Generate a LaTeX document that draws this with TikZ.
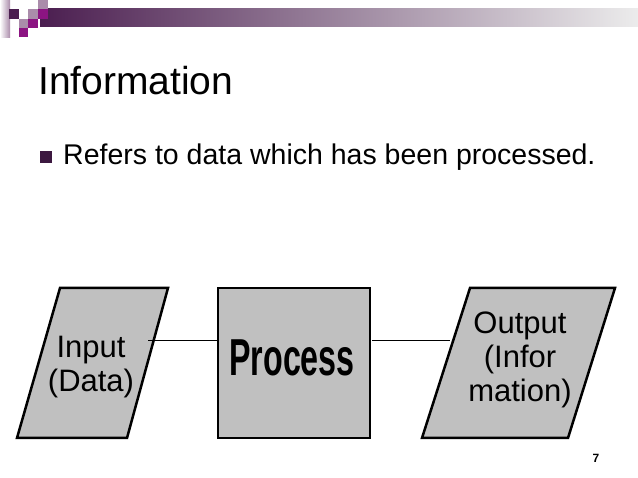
\documentclass[tikz,border=0pt]{standalone}
\usepackage{fontspec}
\setmainfont{Liberation Sans}
\definecolor{pdark}{RGB}{75,30,80}
\definecolor{pmag}{RGB}{140,20,130}
\definecolor{plight}{RGB}{170,140,170}
\definecolor{boxfill}{RGB}{192,192,192}
\begin{document}
\begin{tikzpicture}[x=1pt,y=-1pt,
  shp/.style={draw=black,line width=2.5pt,fill=boxfill},
  lbl/.style={font=\fontsize{31}{34}\selectfont,align=center},
  sq/.style={inner sep=0,minimum size=10pt}]
\useasboundingbox (0,0) rectangle (638,478);
\fill[white] (0,0) rectangle (638,478);
\shade[left color=pdark,right color=white!85!gray] (40,9) rectangle (638,27);
\fill[left color=white, right color=plight] (0,0) rectangle (10,38);
\fill[pdark] (9,9) rectangle (19,19);
\fill[plight] (28,9) rectangle (38,19);
\fill[plight] (38,0) rectangle (48,9);
\fill[pmag] (38,9) rectangle (48,19);
\fill[plight] (19,19) rectangle (28,28);
\fill[pmag] (28,19) rectangle (38,28);
\fill[pmag] (19,28) rectangle (28,37);
\node[anchor=base west,inner sep=0,font=\fontsize{39}{44}\selectfont] (title) at (38,95) {Information};
\fill[pdark!80!black] (40,151) rectangle (52,163);
\node[anchor=base west,inner sep=0,font=\fontsize{28.5}{32}\selectfont] (b1) at (63,165) {Refers to data which has been processed.};
\draw[shp] (60,288) -- (168,288) -- (127,438) -- (17,438) -- cycle;
\draw[shp] (218,288) rectangle (370,438);
\draw[shp] (470,288) -- (615,288) -- (568,438) -- (422,438) -- cycle;
\coordinate (inR) at (148,340);
\coordinate (prL) at (218,340);
\coordinate (prR) at (372,340);
\coordinate (outL) at (450,340);
\draw[line width=0.5pt] (inR) -- (prL);
\draw[line width=0.5pt] (prR) -- (outL);
\node[lbl] (in) at (91,367) {Input\\(Data)};
\node[font=\bfseries\fontsize{52}{56}\selectfont,xscale=0.62] (pr) at (292,358) {Process};
\node[lbl] (out) at (520,360) {Output\\(Infor\\mation)};
\node[font=\bfseries\fontsize{12}{14}\selectfont] (pg) at (596,458) {7};
\end{tikzpicture}
\end{document}
